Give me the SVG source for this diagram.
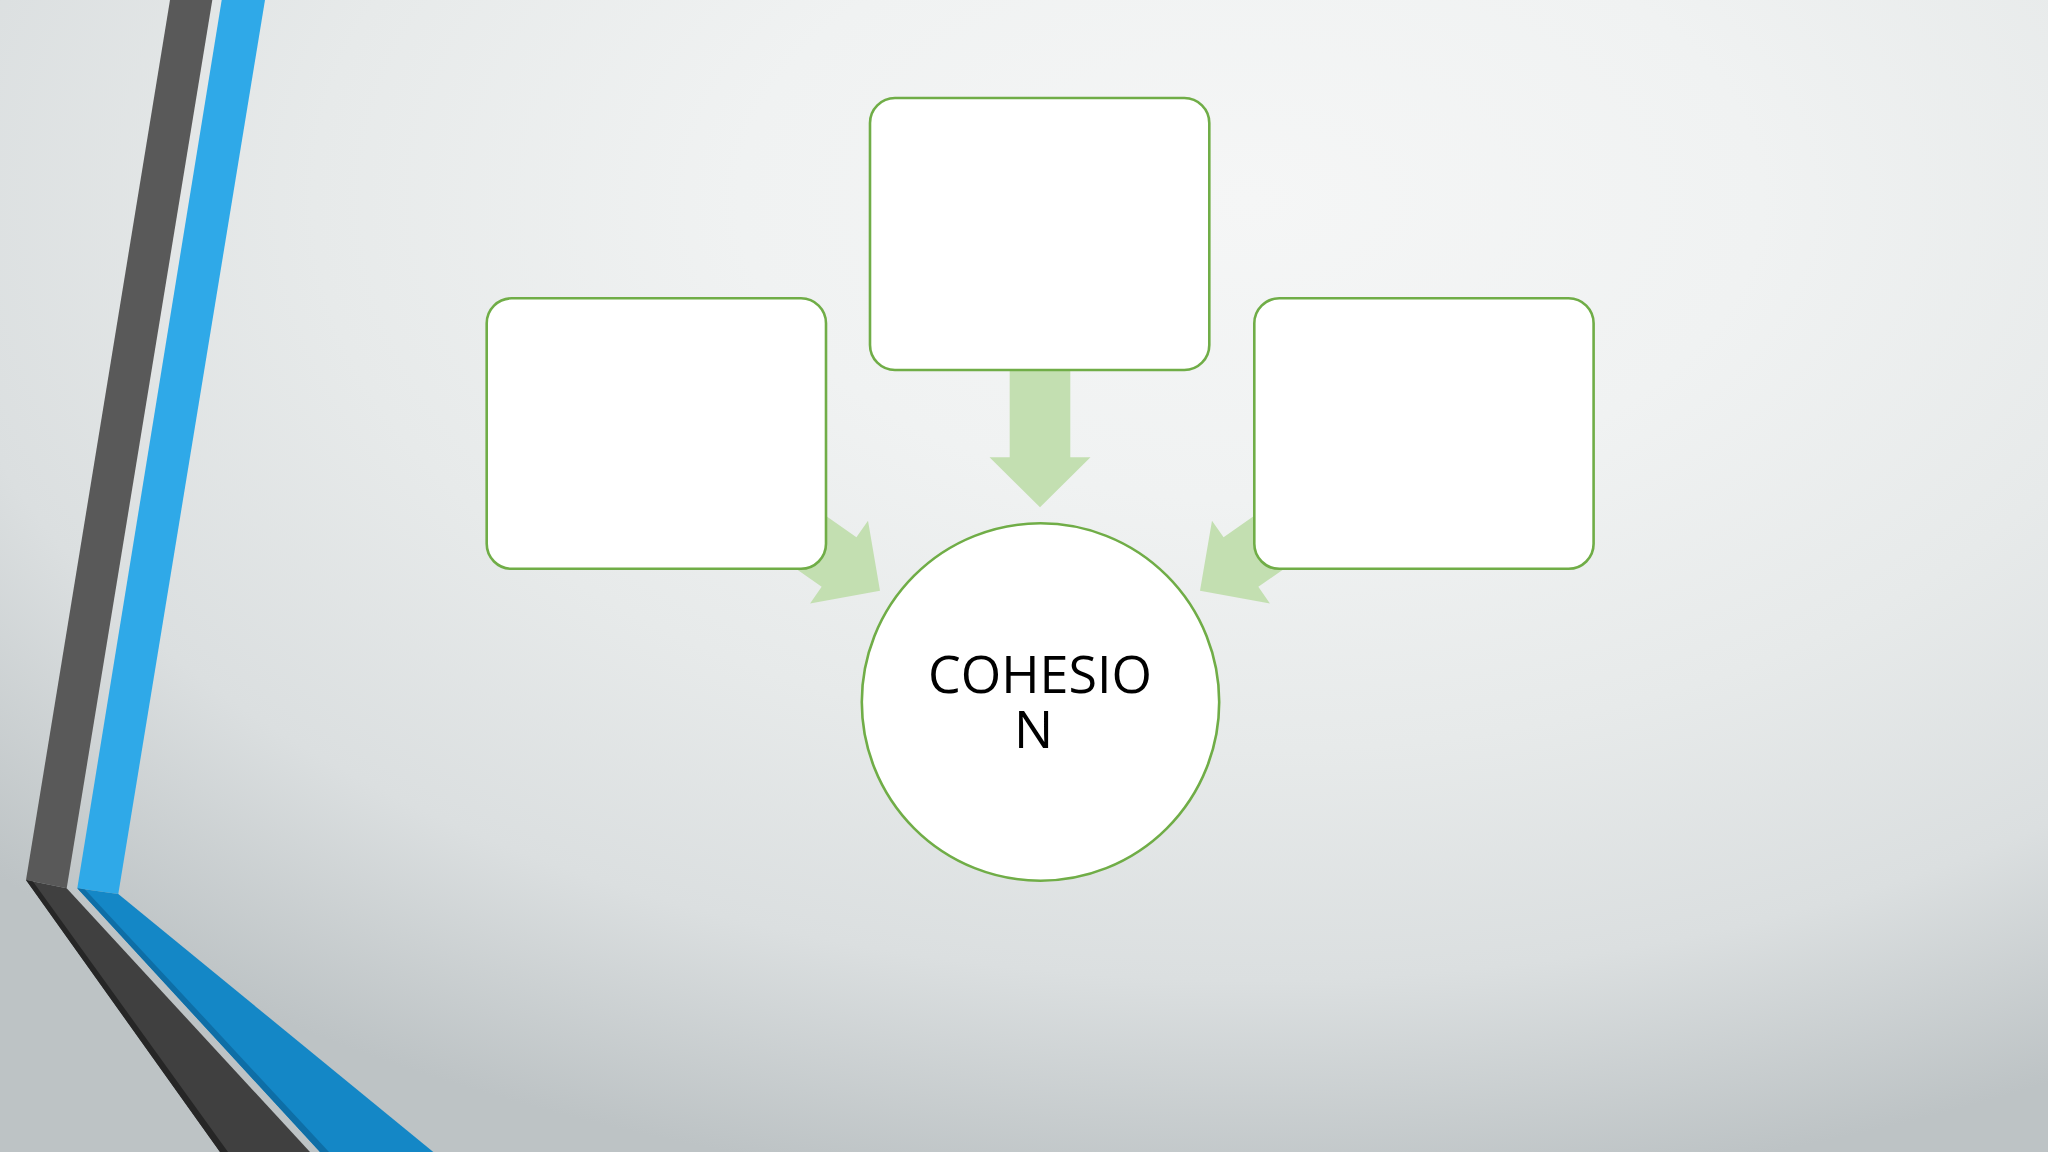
<svg xmlns="http://www.w3.org/2000/svg" width="2048" height="1152" viewBox="0 0 2048 1152">
  <defs>
    <radialGradient id="bg" gradientUnits="userSpaceOnUse" cx="0" cy="0" r="1" gradientTransform="translate(1250 200) scale(1700 1000)">
      <stop offset="0" stop-color="#f5f6f6"/>
      <stop offset="0.3" stop-color="#f0f2f2"/>
      <stop offset="0.55" stop-color="#e7eaea"/>
      <stop offset="0.78" stop-color="#dbdfe0"/>
      <stop offset="1" stop-color="#bdc3c5"/>
    </radialGradient>
    <path id="arrow" d="M0,0 L-50.5,-50 L-30.3,-50 L-30.3,-150 L30.3,-150 L30.3,-50 L50.5,-50 Z"/>
    <style>
      .box { fill: #ffffff; stroke: #70ad47; stroke-width: 2.6; }
      .arr { fill: #c3dfb1; }
      .lbl { font-family: "Open Sans", "Noto Sans", "DejaVu Sans", sans-serif; font-size: 52px; fill: #000000; text-anchor: middle; }
    </style>
  </defs>

  <rect width="2048" height="1152" fill="url(#bg)"/>

  <g id="decor">
    <polygon points="170,0 212.3,0 66.7,888.3 26,880" fill="#595959"/>
    <polygon points="26,880 66.7,888.3 310,1152 220,1152" fill="#404040"/>
    <polygon points="26,880 33,881.5 228,1152 220,1152" fill="#262626"/>
    <polygon points="221.7,0 265,0 118.3,894 77.3,888.3" fill="#2fa9e8"/>
    <polygon points="77.3,888.3 118.3,894 433.3,1152 320,1152" fill="#1487c6"/>
    <polygon points="77.3,888.3 85,889.4 329,1152 320,1152" fill="#0e6ea6"/>
  </g>

  <g id="connectors">
    <use href="#arrow" class="arr" transform="translate(1040 507.3)"/>
    <use href="#arrow" class="arr" transform="translate(880 590.7) rotate(-55)"/>
    <use href="#arrow" class="arr" transform="translate(1200 590.7) rotate(55)"/>
  </g>

  <g id="box-left">
    <rect class="box" x="486.7" y="298.3" width="339.3" height="270.5" rx="25" ry="25"/>
  </g>
  <g id="box-top">
    <rect class="box" x="870" y="98" width="339.3" height="272" rx="25" ry="25"/>
  </g>
  <g id="box-right">
    <rect class="box" x="1254.3" y="298.3" width="339.3" height="270.5" rx="25" ry="25"/>
  </g>

  <g id="circle-cohesion">
    <circle class="box" cx="1040.5" cy="702" r="178.7"/>
    <text class="lbl" x="1040" y="692.7">COHESIO</text>
    <text class="lbl" x="1033.5" y="748">N</text>
  </g>
</svg>
